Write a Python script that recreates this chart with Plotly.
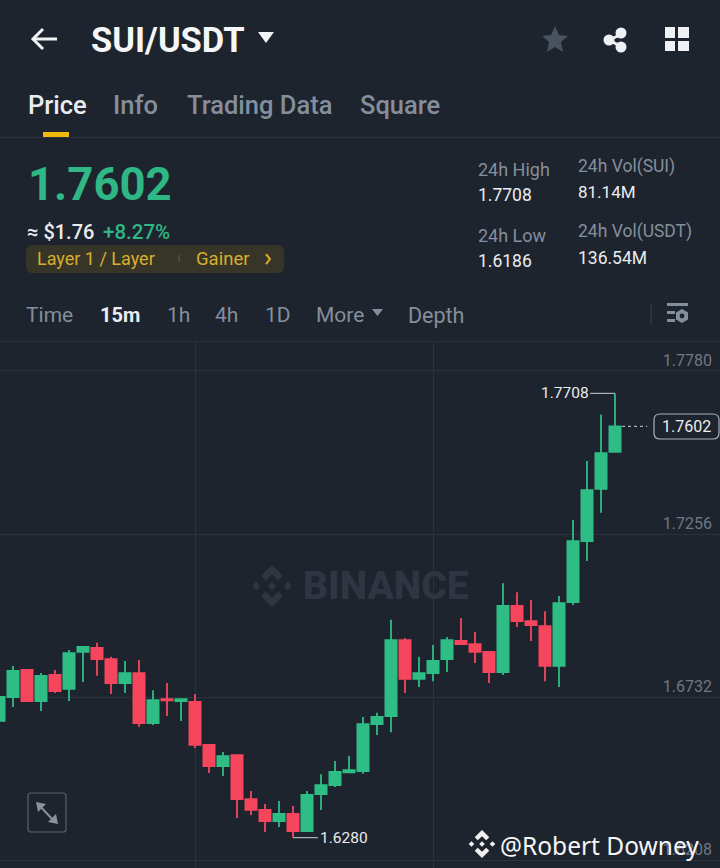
import plotly.graph_objects as go

# ---- data ----
opens = [1.6655,1.6732,1.6819,1.6719,1.6803,1.6758,1.6877,1.6890,1.6854,1.6777,1.6809,1.6648,1.6725,1.6719,1.6716,
         1.6578,1.6510,1.6545,1.6404,1.6369,1.6333,1.6356,1.6301,1.6420,1.6449,1.6490,1.6494,1.6645,1.6671,1.6915,
         1.6790,1.6809,1.6854,1.6912,1.6902,1.6877,1.6812,1.7025,1.6976,1.6960,1.6832,1.7037,1.7233,1.7401,1.7520]
highs = [1.6732,1.6832,1.6822,1.6809,1.6819,1.6883,1.6893,1.6906,1.6861,1.6848,1.6851,1.6754,1.6777,1.6725,1.6742,
         1.6581,1.6555,1.6545,1.6430,1.6388,1.6398,1.6382,1.6430,1.6484,1.6526,1.6542,1.6668,1.6681,1.6980,1.6922,
         1.6861,1.6899,1.6925,1.6986,1.6941,1.6877,1.7098,1.7069,1.7044,1.7008,1.7057,1.7301,1.7491,1.7639,1.7708]
lows = [1.6616,1.6700,1.6716,1.6687,1.6745,1.6719,1.6780,1.6800,1.6742,1.6745,1.6636,1.6642,1.6671,1.6655,1.6568,
        1.6488,1.6478,1.6343,1.6353,1.6298,1.6314,1.6280,1.6301,1.6369,1.6443,1.6488,1.6485,1.6610,1.6619,1.6745,
        1.6764,1.6783,1.6812,1.6901,1.6841,1.6777,1.6803,1.6957,1.6912,1.6783,1.6764,1.7028,1.7169,1.7324,1.7518]
closes = [1.6732,1.6816,1.6719,1.6800,1.6751,1.6873,1.6893,1.6854,1.6777,1.6809,1.6648,1.6722,1.6721,1.6725,1.6578,
          1.6510,1.6542,1.6404,1.6369,1.6333,1.6356,1.6301,1.6417,1.6449,1.6491,1.6497,1.6645,1.6668,1.6915,1.6790,
          1.6809,1.6848,1.6915,1.6902,1.6877,1.6812,1.7025,1.6976,1.6963,1.6832,1.7034,1.7233,1.7397,1.7516,1.7602]
candle_index = list(range(len(opens)))
price_ticks = [1.7780, 1.7256, 1.6732, 1.6208]
price_tick_text = ["1.7780", "1.7256", "1.6732", "1.6208"]
vertical_grid_at = [14, 31]
last_price = 1.7602
high_price = 1.7708
low_price = 1.6280
high_index = 44
low_index = 21

W, H = 720, 868
BG = "#1e242e"
GREEN = "#2ebd85"
RED = "#f6465d"
GRID = "#2b323d"
GREY = "#848e9c"
WHITE = "#eaecef"
YELLOW = "#d9ae2e"
FONT = "Roboto"

def px(x): return x / W
def py(y): return 1 - y / H

def path(points, close=True):
    s = "M " + " L ".join(f"{px(x):.5f},{py(y):.5f}" for x, y in points)
    return s + (" Z" if close else "")

shapes, annotations = [], []

def poly(points, color, layer="above"):
    shapes.append(dict(type="path", xref="paper", yref="paper", path=path(points), fillcolor=color,
                       line=dict(width=0), layer=layer))

def stroke(points, color, width=2, layer="above", dash="solid"):
    shapes.append(dict(type="path", xref="paper", yref="paper", path=path(points, close=False),
                       line=dict(color=color, width=width, dash=dash), layer=layer))

def rect(x0, y0, x1, y1, color, layer="above"):
    shapes.append(dict(type="rect", xref="paper", yref="paper", x0=px(x0), x1=px(x1), y0=py(y0), y1=py(y1),
                       fillcolor=color, line=dict(width=0), layer=layer))

def rrect(x0, y0, x1, y1, r, fill=None, line=None, lw=1, layer="above"):
    k = 0.3 * r
    s = (f"M {px(x0+r):.5f},{py(y0):.5f} L {px(x1-r):.5f},{py(y0):.5f} "
         f"C {px(x1-k):.5f},{py(y0):.5f} {px(x1):.5f},{py(y0+k):.5f} {px(x1):.5f},{py(y0+r):.5f} "
         f"L {px(x1):.5f},{py(y1-r):.5f} "
         f"C {px(x1):.5f},{py(y1-k):.5f} {px(x1-k):.5f},{py(y1):.5f} {px(x1-r):.5f},{py(y1):.5f} "
         f"L {px(x0+r):.5f},{py(y1):.5f} "
         f"C {px(x0+k):.5f},{py(y1):.5f} {px(x0):.5f},{py(y1-k):.5f} {px(x0):.5f},{py(y1-r):.5f} "
         f"L {px(x0):.5f},{py(y0+r):.5f} "
         f"C {px(x0):.5f},{py(y0+k):.5f} {px(x0+k):.5f},{py(y0):.5f} {px(x0+r):.5f},{py(y0):.5f} Z")
    shapes.append(dict(type="path", xref="paper", yref="paper", path=s, fillcolor=fill or "rgba(0,0,0,0)",
                       line=dict(color=line or "rgba(0,0,0,0)", width=lw if line else 0), layer=layer))

def circle(cx, cy, r, color):
    shapes.append(dict(type="circle", xref="paper", yref="paper", x0=px(cx-r), x1=px(cx+r), y0=py(cy-r), y1=py(cy+r),
                       fillcolor=color, line=dict(width=0), layer="above"))

def text(x, y, s, size, color, weight=400, anchor="left", font=FONT):
    annotations.append(dict(xref="paper", yref="paper", x=px(x - 1.5), y=py(y), text=s, showarrow=False,
                            xanchor=anchor, yanchor="middle", align=anchor, borderpad=0,
                            font=dict(family=font, size=size, color=color, weight=weight)))

def logo(cx, cy, s, color, layer="above"):
    # five-part diamond mark, s = half height
    def dia(x, y, r):
        poly([(x, y-r), (x+r, y), (x, y+r), (x-r, y)], color, layer)
    dia(cx, cy, s*0.2)
    dia(cx-s*0.75, cy, s*0.2)
    dia(cx+s*0.75, cy, s*0.2)
    poly([(cx, cy-s), (cx+s*0.52, cy-s*0.48), (cx+s*0.3, cy-s*0.26), (cx, cy-s*0.56),
          (cx-s*0.3, cy-s*0.26), (cx-s*0.52, cy-s*0.48)], color, layer)
    poly([(cx, cy+s), (cx+s*0.52, cy+s*0.48), (cx+s*0.3, cy+s*0.26), (cx, cy+s*0.56),
          (cx-s*0.3, cy+s*0.26), (cx-s*0.52, cy+s*0.48)], color, layer)

# ---- header ----
stroke([(33, 39), (57, 39)], "#f2f3f5", 3)
stroke([(43, 29), (33, 39), (43, 49)], "#f2f3f5", 3)
text(91, 40, "SUI/USDT", 34.5, "#f5f6f7", 700)
poly([(258, 32), (274, 32), (266, 43)], "#f2f3f5")
# star
poly([(555, 26), (559, 35), (568, 36), (561, 42), (563, 52), (555, 47), (547, 52), (549, 42), (542, 36), (551, 35)], "#49525f")
# share
stroke([(622, 34), (609, 40), (622, 47)], "#eef0f3", 3)
circle(621, 33, 5.5, "#eef0f3"); circle(609, 40, 5.5, "#eef0f3"); circle(621, 47, 5.5, "#eef0f3")
# grid icon
rect(665, 27, 675, 38, "#eef0f3"); rect(678, 27, 689, 38, "#eef0f3")
rect(665, 41, 675, 51, "#eef0f3"); rect(678, 41, 689, 51, "#eef0f3")

# tabs
text(28, 105, "Price", 25.5, WHITE, 500)
text(113, 105, "Info", 25.5, GREY, 500)
text(187, 105, "Trading Data", 25.5, GREY, 500)
text(360, 105, "Square", 25.5, GREY, 500)
rect(43, 132, 69, 137, "#f0b90b")
rect(0, 137, 720, 138, GRID)

# price block
text(28, 185, "1.7602", 45.5, "#2fb786", 700)
text(27, 232, "≈ $1.76", 20, WHITE, 500)
text(103, 232, "+8.27%", 20.5, "#2fb786", 500)
rrect(26, 245, 284, 273, 7, fill="#373428")
text(37, 259, "Layer 1 / Layer", 18, YELLOW)
rect(178.5, 255, 179.5, 262, "#6b6233")
text(197, 259, "Gainer", 18.5, YELLOW)
stroke([(266, 254), (270, 259), (266, 264)], YELLOW, 2)

text(478, 169, "24h High", 18, GREY)
text(478, 195, "1.7708", 17.5, WHITE)
text(578, 166, "24h Vol(SUI)", 17.5, GREY)
text(578, 192, "81.14M", 17, WHITE)
text(478, 235, "24h Low", 18, GREY)
text(478, 261, "1.6186", 17.5, WHITE)
text(578, 232, "24h Vol(USDT)", 17.5, GREY)
text(578, 258, "136.54M", 17.5, WHITE)

# interval bar
text(26, 315, "Time", 21, GREY)
text(100, 315, "15m", 20, WHITE, 700)
text(167, 315, "1h", 21, GREY)
text(215, 315, "4h", 21, GREY)
text(265, 315, "1D", 21, GREY)
text(316, 315, "More", 21, GREY)
poly([(372, 309), (383, 309), (377.5, 316)], GREY)
text(408, 315, "Depth", 21.5, GREY)
rect(650.5, 303, 651.5, 325, "#3a414c")
rect(667, 303, 688, 306, GREY); rect(667, 311, 675, 314, GREY); rect(667, 319, 675, 322, GREY)
poly([(682, 309), (688, 312.5), (688, 319.5), (682, 323), (676, 319.5), (676, 312.5)], GREY)
circle(682, 316, 2.4, BG)
rect(0, 341, 720, 342, GRID)

# watermark
logo(272, 586, 21, "#2f3642", layer="below")
text(303, 586, "BINANCE", 39, "#2f3642", 800)

# expand button
rrect(28, 793, 66, 832, 3, line="#5a616d", lw=1.2)
stroke([(38, 804), (55, 822)], "#8a919c", 2)
poly([(36, 802), (46, 804), (38, 812)], "#8a919c")
poly([(58, 824), (48, 822), (56, 814)], "#8a919c")

# credit overlay
logo(482, 844, 14, "#f0f0f0")
text(500, 845, "@Robert Downey", 24.5, "#f5f6f7", font="Noto Sans")

# ---- chart annotations anchored to data ----
for x0, x1, y in [(high_index - 1.78, high_index, high_price), (low_index, low_index + 1.78, low_price)]:
    shapes.append(dict(type="line", xref="x", yref="y", x0=x0, x1=x1, y0=y, y1=y,
                       line=dict(color="#aab0b8", width=1.2)))
shapes.append(dict(type="line", xref="x", yref="y", x0=44.5, x1=46.3, y0=last_price, y1=last_price,
                   line=dict(color="#aab0b8", width=1.2, dash="3px,3px")))
annotations.append(dict(xref="x", yref="y", x=high_index - 1.75, y=high_price, text=f"{high_price:.4f}", showarrow=False,
                        xanchor="right", yanchor="middle", font=dict(family=FONT, size=15.5, color=WHITE)))
annotations.append(dict(xref="x", yref="y", x=low_index + 1.76, y=low_price, text=f"{low_price:.4f}", showarrow=False,
                        xanchor="left", yanchor="middle", font=dict(family=FONT, size=15.5, color=WHITE)))
rrect(654, 414, 719, 439, 6, fill=BG, line="#aab0b8", lw=1.2)
annotations.append(dict(xref="paper", yref="y", x=px(686.5), y=last_price, text=f"{last_price:.4f}", showarrow=False,
                        xanchor="center", yanchor="middle", font=dict(family=FONT, size=16, color=WHITE)))

fig = go.Figure(go.Candlestick(
    x=candle_index, open=opens, high=highs, low=lows, close=closes,
    increasing=dict(line=dict(color=GREEN, width=1.8), fillcolor=GREEN),
    decreasing=dict(line=dict(color=RED, width=1.8), fillcolor=RED),
    whiskerwidth=0, showlegend=False, hoverinfo="skip",
))
fig.update_layout(
    width=W, height=H, autosize=False,
    margin=dict(l=0, r=0, t=0, b=0),
    paper_bgcolor=BG, plot_bgcolor=BG,
    boxgap=0.2, boxgroupgap=0,
    showlegend=False,
    shapes=shapes, annotations=annotations,
    font=dict(family=FONT),
    xaxis=dict(range=[1/14, 721/14], domain=[0, 1], rangeslider=dict(visible=False), tickmode="array",
               tickvals=vertical_grid_at, showticklabels=False, ticks="", showgrid=True, gridcolor=GRID, gridwidth=1,
               zeroline=False, showline=False),
    yaxis=dict(range=[1.61823, 1.78732], domain=[0, 526/868], side="right", tickmode="array",
               tickvals=price_ticks, ticktext=price_tick_text, ticklabelposition="inside", ticklabelshift=-11,
               ticklabelstandoff=5, ticks="", tickfont=dict(family=FONT, size=16, color="#6f7783"),
               showgrid=True, gridcolor=GRID, gridwidth=1, zeroline=False, showline=False),
)
fig.write_html("out.html", config=dict(displayModeBar=False),
               post_script="document.body.style.margin='0';document.body.style.background='#1e242e';document.documentElement.style.overflow='hidden';")
